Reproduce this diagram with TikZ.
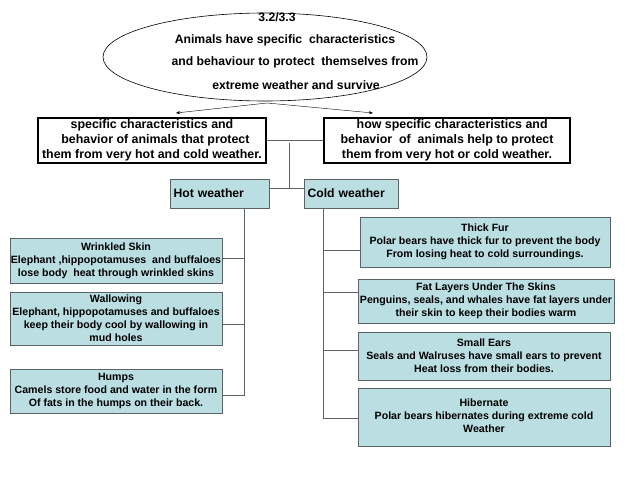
\documentclass[tikz,border=0pt]{standalone}
\usepackage{fontspec}
\setmainfont{Liberation Sans}
\usetikzlibrary{arrows.meta,shapes.geometric}
\definecolor{boxfill}{RGB}{186,222,226}
\definecolor{boxline}{RGB}{90,100,100}
\begin{document}
\begin{tikzpicture}[x=1pt,y=-1pt,font=\bfseries\fontsize{10.6}{13}\selectfont,
  bx/.style={draw=boxline,fill=boxfill,line width=0.8pt,align=center,inner sep=0pt},
  wb/.style={draw=black,line width=1.3pt,fill=white,align=center,inner sep=0pt,font=\bfseries\fontsize{12.4}{15}\selectfont},
  tt/.style={font=\bfseries\fontsize{12.2}{14}\selectfont},
  con/.style={draw=boxline,line width=0.8pt},
  arr/.style={draw=black,line width=0.4pt,-{Stealth[length=4pt,width=3pt]}}]
\useasboundingbox (0,0) rectangle (638,478);
\node[draw=black,line width=0.6pt,ellipse,minimum width=324pt,minimum height=88pt] (ell) at (265,57) {};
\node[tt] (t0) at (277,17) {3.2/3.3};
\node[tt] (t1) at (285,40) {Animals have specific\ \ characteristics};
\node[tt] (t2) at (295,62) {and behaviour to protect\ \ themselves from};
\node[tt] (t3) at (296,85) {extreme weather and survive};
\coordinate (ctop) at (267,103);
\node[wb,minimum width=228pt,minimum height=45pt] (L) at (152,140.5) {specific characteristics and\\ \ \ behavior of animals that protect\\them from very hot and cold weather.};
\node[wb,minimum width=246pt,minimum height=45pt] (R) at (447,140.5) {\ \ \ how specific characteristics and\\behavior\ \ of\ \ animals help to protect\\them from very hot or cold weather.};
\draw[arr] (ctop) -- (176,113);
\draw[arr] (ctop) -- (373,113);
\node[bx,tt,minimum width=99pt,minimum height=29pt,text width=92pt,align=left] (hot) at (219.5,193.5) {Hot weather};
\node[bx,tt,minimum width=94pt,minimum height=29pt,text width=87pt,align=left] (cold) at (351,193.5) {Cold weather};
\coordinate (j) at (289,143);
\draw[con] (L.east) -- (R.west);
\draw[con] (j) -- (289,188);
\draw[con] (hot.east |- 0,188) -- (cold.west |- 0,188);
\node[bx,minimum width=212pt,minimum height=45pt] (w1) at (116,260.5) {Wrinkled Skin\\Elephant ,hippopotamuses\ \ and buffaloes\\lose body\ \ heat through wrinkled skins};
\node[bx,minimum width=212pt,minimum height=53pt] (w2) at (116,318.5) {Wallowing\\Elephant, hippopotamuses and buffaloes\\keep their body cool by wallowing in\\mud holes};
\node[bx,minimum width=212pt,minimum height=44pt] (w3) at (116,391) {Humps\\Camels store food and water in the form\\Of fats in the humps on their back.};
\coordinate (hv) at (244,395);
\draw[con] (hot.south -| hv) -- (hv) -- (w3.east |- hv);
\draw[con] (w1.east |- 0,258) -- (244,258);
\draw[con] (w2.east |- 0,324) -- (244,324);
\node[bx,minimum width=250pt,minimum height=50pt] (c1) at (485,242) {Thick Fur\\Polar bears have thick fur to prevent the body\\From losing heat to cold surroundings.};
\node[bx,minimum width=256pt,minimum height=44pt] (c2) at (486,301) {Fat Layers Under The Skins\\Penguins, seals, and whales have fat layers under\\their skin to keep their bodies warm};
\node[bx,minimum width=252pt,minimum height=48pt] (c3) at (484,356) {Small Ears\\Seals and Walruses have small ears to prevent\\Heat loss from their bodies.};
\node[bx,minimum width=252pt,minimum height=58pt] (c4) at (484,417) {\raisebox{8pt}{\begin{tabular}{@{}c@{}}Hibernate\\Polar bears hibernates during extreme cold\\Weather\end{tabular}}};
\coordinate (cv) at (323,418);
\draw[con] (cold.south -| cv) -- (cv) -- (c4.west |- cv);
\draw[con] (323,250) -- (c1.west |- 0,250);
\draw[con] (323,292) -- (c2.west |- 0,292);
\draw[con] (323,350) -- (c3.west |- 0,350);
\end{tikzpicture}
\end{document}
